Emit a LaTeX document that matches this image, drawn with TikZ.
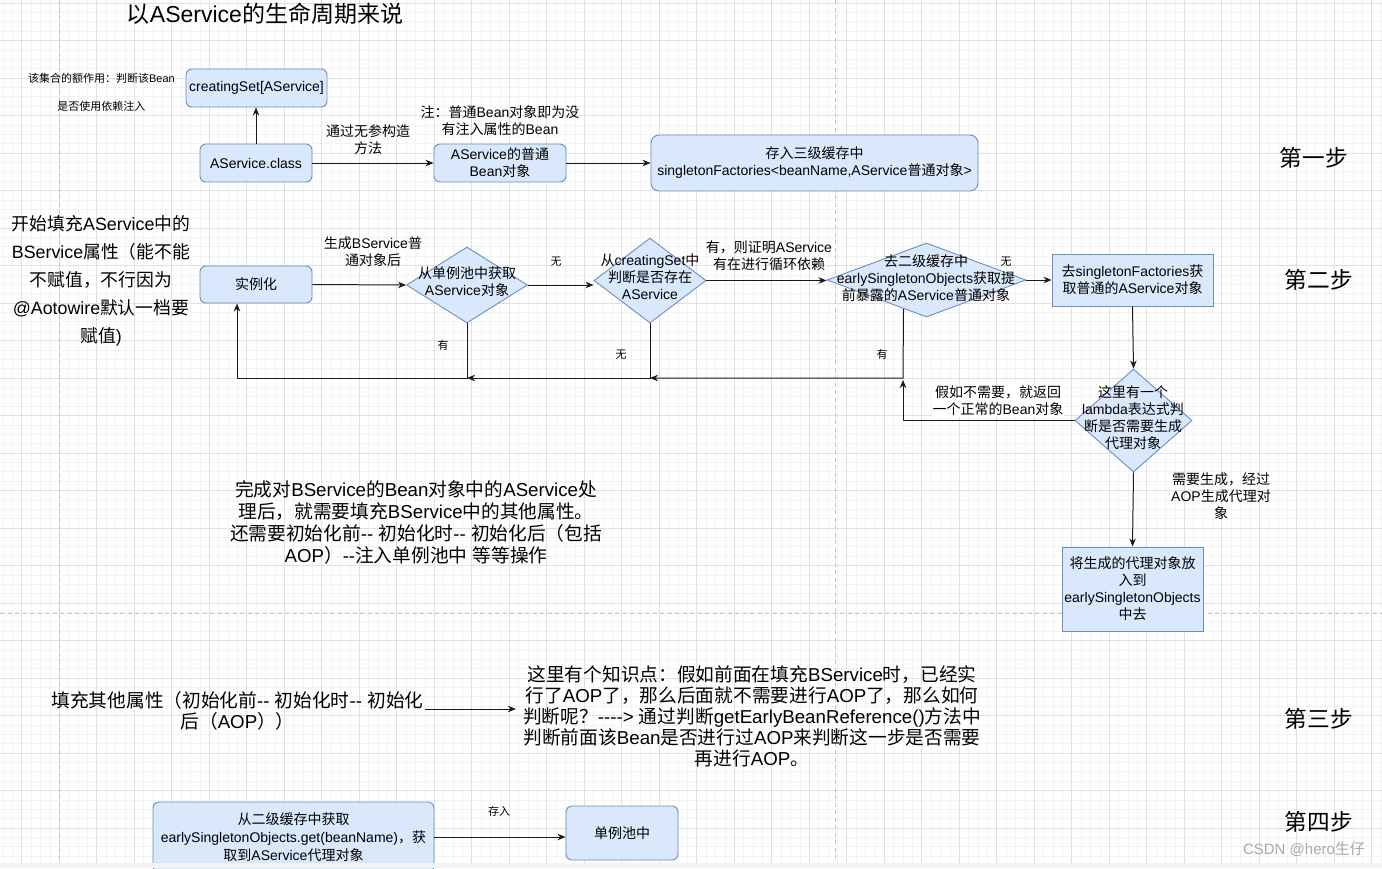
\documentclass[tikz,border=0pt]{standalone}
\usepackage{fontspec}
\setmainfont{Liberation Sans}
\newfontfamily\cjkf{Noto Sans CJK SC}
\usetikzlibrary{shapes.geometric,arrows.meta,calc}
\XeTeXinterchartokenstate=1
\newXeTeXintercharclass\cjkcls
\newcount\cjkcnt
\newcommand\setcjkrange[2]{%
  \cjkcnt=#1\relax
  \loop
    \XeTeXcharclass\cjkcnt=\cjkcls
    \ifnum\cjkcnt<#2\relax
    \advance\cjkcnt by 1\relax
  \repeat}
\setcjkrange{"3000}{"303F}
\setcjkrange{"4E00}{"9FFF}
\setcjkrange{"FF00}{"FFEF}
\XeTeXinterchartoks 0 \cjkcls = {\cjkf}
\XeTeXinterchartoks 4095 \cjkcls = {\cjkf}
\XeTeXinterchartoks \cjkcls 0 = {\rmfamily}
\XeTeXinterchartoks \cjkcls 4095 = {\rmfamily}
\XeTeXinterchartoks 4095 0 = {\rmfamily}
\definecolor{bfill}{HTML}{DAE8FC}
\definecolor{bstroke}{HTML}{6C8EBF}
\definecolor{gmin}{HTML}{F3F3F3}
\definecolor{gmaj}{HTML}{E0E0E0}
\definecolor{pgdash}{HTML}{C4C4C4}
\definecolor{ink}{HTML}{1A1A1A}
\definecolor{wmark}{HTML}{A8A8A8}
\newcommand\myfs[2]{\fontsize{#1}{#2}\selectfont}
\tikzset{
  box/.style={draw=bstroke, fill=bfill, rounded corners=6pt, line width=0.9pt, align=center, inner sep=0pt, font=\myfs{14}{17}},
  sqbox/.style={draw=bstroke, fill=bfill, line width=0.9pt, align=center, inner sep=0pt, font=\myfs{14}{17}},
  dia/.style={draw=bstroke, fill=bfill, diamond, line width=0.9pt, inner sep=0pt},
  txt/.style={align=center, inner sep=0pt, font=\myfs{14}{17}},
  small/.style={align=center, inner sep=0pt, font=\myfs{11}{13}},
  big/.style={align=center, inner sep=0pt, font=\myfs{18.7}{21.5}},
  steplbl/.style={inner sep=0pt, font=\myfs{22.7}{26}},
  lblbg/.style={fill=white, inner sep=1pt},
  arr/.style={draw=ink, line width=1pt, -{Stealth[length=8pt,width=6.5pt,inset=2.5pt]}},
  ln/.style={draw=ink, line width=1pt},
  gminor/.style={draw=gmin, line width=0.7pt},
  gmajor/.style={draw=gmaj, line width=0.8pt},
  pgline/.style={draw=pgdash, line width=1pt, dash pattern=on 4pt off 3.5pt}
}
\begin{document}
\begin{tikzpicture}[x=1pt,y=-1pt]
\useasboundingbox (0,0) rectangle (1382,868);
\fill[white] (0,0) rectangle (1382,868);
% grid
\foreach \k in {0,...,147} {\draw[gminor] ({3.05+\k*9.375},0) -- ({3.05+\k*9.375},868);}
\foreach \k in {0,...,92} {\draw[gminor] (0,{3+\k*9.375}) -- (1382,{3+\k*9.375});}
\foreach \k in {0,...,36} {\draw[gmajor] ({21.8+\k*37.5},0) -- ({21.8+\k*37.5},868);}
\foreach \k in {0,...,23} {\draw[gmajor] (0,{3+\k*37.5}) -- (1382,{3+\k*37.5});}
% page breaks
\draw[pgline] (59.5,0) -- (59.5,868);
\draw[pgline] (835,0) -- (835,868);
\draw[pgline] (0,613) -- (1382,613);

% ---------- step 1 ----------
\node[txt, font=\myfs{23}{28}] (title) at (265,14) {以AService的生命周期来说};
\node[small, font=\myfs{11}{28}] (note1) at (101.5,92) {该集合的额作用：判断该Bean\\是否使用依赖注入};
\node[box, minimum width=141pt, minimum height=38pt] (cs) at (256.5,88) {creatingSet[AService]};
\node[box, minimum width=112pt, minimum height=38pt] (cls) at (256,163) {AService.class};
\node[txt] (lblctor) at (368,139.5) {通过无参构造\\方法};
\node[txt] (note2) at (500,121) {注：普通Bean对象即为没\\有注入属性的Bean};
\node[box, minimum width=132pt, minimum height=38pt] (pt) at (500,163) {AService的普通\\Bean对象};
\node[box, rounded corners=8pt, minimum width=327pt, minimum height=56pt] (sf) at (814.5,163) {存入三级缓存中\\singletonFactories<beanName,AService普通对象>};
\node[steplbl] (s1) at (1314,158) {第一步};

\draw[arr] (cls.north) -- (cls.north |- cs.south);
\draw[arr] (cls.east) -- (pt.west);
\draw[arr] (pt.east) -- (sf.west);

% ---------- step 2 ----------
\node[txt, font=\myfs{17.8}{28}] (lefttxt) at (101,281) {开始填充AService中的\\BService属性（能不能\\不赋值，不行因为\\@Aotowire默认一档要\\赋值)};
\node[box, minimum width=112pt, minimum height=37pt] (inst) at (256,284.5) {实例化};
\node[txt] (lblgen) at (373,251.5) {生成BService普\\通对象后};
\node[dia, minimum width=121pt, minimum height=76pt] (d1) at (467,285) {};
\node[txt] (d1t) at (467,282) {从单例池中获取\\AService对象};
\node[dia, minimum width=112pt, minimum height=85pt] (d2) at (650,280.5) {};
\node[txt] (d2t) at (650,277) {从creatingSet中\\判断是否存在\\AService};
\node[dia, minimum width=199pt, minimum height=74pt] (d3) at (926.5,280) {};
\node[txt] (d3t) at (926,278) {去二级缓存中\\earlySingletonObjects获取提\\前暴露的AService普通对象};
\node[sqbox, minimum width=161pt, minimum height=52pt] (gf) at (1132.5,280) {去singletonFactories获\\取普通的AService对象};
\node[dia, minimum width=117pt, minimum height=103pt] (d4) at (1133.5,420.5) {};
\node[txt] (d4t) at (1133,418) {这里有一个\\lambda表达式判\\断是否需要生成\\代理对象};
\node[sqbox, minimum width=141pt, minimum height=84pt] (px) at (1132.5,589) {将生成的代理对象放\\入到\\earlySingletonObjects\\中去};
\node[steplbl] (s2) at (1319,280) {第二步};

\coordinate (k0) at (237,378);
\coordinate (j1) at (467,378);
\coordinate (j2) at (650,378);
\coordinate (j3) at (903,378);
\coordinate (j3b) at (903,380);
\coordinate (p3) at ($(d3.west)!0.77!(d3.south)$);

\draw[arr] (inst.east) -- (d1.west);
\draw[arr] (d1.east) -- (d1.east -| d2.west);
\draw[arr] (d2.east) -- (d2.east -| d3.west);
\draw[arr] (d3.east) -- (d3.east -| gf.west);
\draw[arr] (gf.south) -- (d4.north);
\draw[arr] (d4.south) -- (px.north);
\draw[arr] (d1.south) -- (j1) -- (k0) -- (k0 |- inst.south);
\draw[arr] (d2.south) -- (j2) -- (j1);
\draw[arr] (p3) -- (j3) -- (j2);
\draw[arr] (d4.west) -- (d4.west -| j3b) -- (j3b);

\node[small, lblbg] (l1) at (556,262) {无};
\node[txt] (l2) at (769,256) {有，则证明AService\\有在进行循环依赖};
\node[small] (l3) at (1006,262) {无};
\node[small] (l4) at (443,345) {有};
\node[small] (l5) at (621,355) {无};
\node[small] (l6) at (882,354) {有};
\node[txt, lblbg] (l7) at (998,401) {假如不需要，就返回\\一个正常的Bean对象};
\node[txt] (l8) at (1221,496) {需要生成，经过\\AOP生成代理对\\象};

\node[big, font=\myfs{18.7}{22}] (mid) at (416,522) {完成对BService的Bean对象中的AService处\\理后，就需要填充BService中的其他属性。\\还需要初始化前-{}- 初始化时-{}- 初始化后（包括\\AOP）-{}-注入单例池中 等等操作};

% ---------- step 3 ----------
\node[big, font=\myfs{18.7}{21}] (t3l) at (237.5,711) {填充其他属性（初始化前-{}- 初始化时-{}- 初始化\\后（AOP））};
\node[big, font=\myfs{18.7}{21}] (t3r) at (752,716.5) {这里有个知识点：假如前面在填充BService时，已经实\\行了AOP了，那么后面就不需要进行AOP了，那么如何\\判断呢？-{}-{}-{}-> 通过判断getEarlyBeanReference()方法中\\判断前面该Bean是否进行过AOP来判断这一步是否需要\\再进行AOP。};
\draw[arr] ($(t3l.east)+(1,-2)$) -- ($(t3l.east -| t3r.west)+(-7,-2)$);
\node[steplbl] (s3) at (1319,719) {第三步};

% ---------- step 4 ----------
\node[box, minimum width=281pt, minimum height=70pt, font=\myfs{14}{18}] (b1) at (293.5,837) {从二级缓存中获取\\earlySingletonObjects.get(beanName)，获\\取到AService代理对象};
\node[box, minimum width=112pt, minimum height=54pt] (b2) at (622,833) {单例池中};
\draw[arr] (b1.east) -- (b1.east -| b2.west);
\node[small] (l9) at (499,811) {存入};
\node[steplbl] (s4) at (1319,822) {第四步};

% bottom band and watermark
\fill[gmin] (0,863) rectangle (1382,868);
\node[txt, font=\myfs{15}{18}, text=wmark] (wm) at (1304,849) {CSDN @hero生仔};
\end{tikzpicture}
\end{document}
